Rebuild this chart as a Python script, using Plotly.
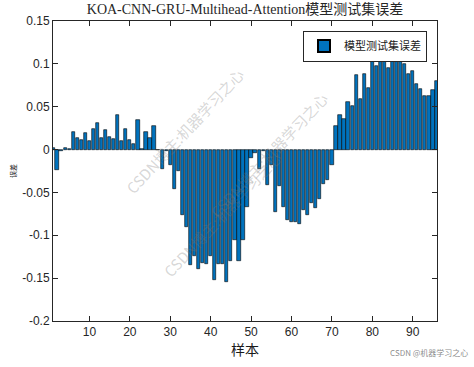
import plotly.graph_objects as go

# ---- data ----
samples = list(range(1, 97))
errors = [0.002, -0.024, -0.002, 0.0024, 0.0005, 0.021, 0.013, 0.011, 0.0196, 0.010,
          0.024, 0.031, 0.013, 0.0226, 0.0146, 0.012, 0.040, 0.0095, 0.024, 0.0107,
          0.006, 0.034, 0.0005, 0.021, 0.014, 0.028, -0.001, -0.023, -0.002, -0.018,
          -0.046, -0.025, -0.076, -0.090, -0.135, -0.124, -0.139, -0.132, -0.134, -0.124,
          -0.152, -0.134, -0.133, -0.155, -0.130, -0.105, -0.130, -0.105, -0.067, -0.010,
          -0.004, -0.023, -0.0015, -0.041, -0.0175, -0.073, -0.042, -0.067, -0.082, -0.084,
          -0.084, -0.087, -0.070, -0.076, -0.062, -0.068, -0.058, -0.040, -0.035, -0.018,
          0.027, 0.040, 0.036, 0.055, 0.051, 0.0866, 0.059, 0.088, 0.072, 0.1095,
          0.097, 0.106, 0.114, 0.095, 0.111, 0.115, 0.111, 0.100, 0.088, 0.0915,
          0.077, 0.0705, 0.062, 0.062, 0.0697, 0.080]
x_ticks = [10, 20, 30, 40, 50, 60, 70, 80, 90]
y_ticks = [-0.2, -0.15, -0.1, -0.05, 0, 0.05, 0.1, 0.15]
y_tick_text = ["-0.2", "-0.15", "-0.1", "-0.05", "0", "0.05", "0.1", "0.15"]
series_name = "模型测试集误差"
title_text = "KOA-CNN-GRU-Multihead-Attention模型测试集误差"
watermark = "CSDN博主:机器学习之心"

AX = "#262626"
SERIF = "Liberation Serif, Noto Sans CJK SC, serif"
SANS = "Liberation Sans, Arial, sans-serif"

fig = go.Figure()
fig.add_trace(go.Bar(
    x=samples, y=errors, name=series_name, width=0.8,
    marker=dict(color="#0072BD", line=dict(color="black", width=0.6)),
    showlegend=True,
))

axis_common = dict(showgrid=False, zeroline=False, showline=True, linecolor=AX,
                   linewidth=1, mirror="ticks", ticks="inside", ticklen=5,
                   tickcolor=AX, tickwidth=1,
                   tickfont=dict(family=SANS, size=12, color=AX))

fig.update_layout(
    width=474, height=367,
    margin=dict(l=53, r=37, t=21, b=41),
    paper_bgcolor="white", plot_bgcolor="white",
    bargap=0,
    title=dict(text=title_text, x=0.517, xanchor="center", y=0.974, yanchor="middle",
               font=dict(family=SERIF, size=14, color="#262626")),
    xaxis=dict(range=[1, 96], tickvals=x_ticks,
               title=dict(text="样本", font=dict(family=SERIF, size=14, color="#1a1a1a"),
                          standoff=6),
               **axis_common),
    yaxis=dict(range=[-0.2, 0.15], tickvals=y_ticks, ticktext=y_tick_text,
               title=dict(text="误差", font=dict(family=SERIF, size=7, color="#1a1a1a"),
                          standoff=4),
               **axis_common),
    legend=dict(x=0.974, y=0.968, xanchor="right", yanchor="top",
                bgcolor="white", bordercolor="#262626", borderwidth=1,
                font=dict(family=SERIF, size=11, color="#1a1a1a"),
                itemsizing="constant"),
)

# faint watermarks
def px2paper(px, py):
    return (px - 53) / 384.0, (326 - py) / 305.0

wm_font = dict(family="Noto Sans CJK SC, sans-serif", size=15, color="rgba(120,120,120,0.30)")
for (cx, cy) in [(184, 133), (222, 218), (268, 228)]:
    xp, yp = px2paper(cx, cy)
    fig.add_annotation(text=watermark, xref="paper", yref="paper", x=xp, y=yp,
                       showarrow=False, textangle=-47, font=wm_font)

fig.add_annotation(text="CSDN @机器学习之心", xref="paper", yref="paper",
                   x=px2paper(470, 358)[0], y=px2paper(470, 358)[1],
                   xanchor="right", yanchor="middle", showarrow=False,
                   font=dict(family="Noto Sans CJK SC, sans-serif", size=8,
                             color="rgba(110,110,110,0.8)"))

fig.write_html("out.html", config={"displayModeBar": False},
               post_script="document.body.style.margin='0';document.body.style.overflow='hidden';")
